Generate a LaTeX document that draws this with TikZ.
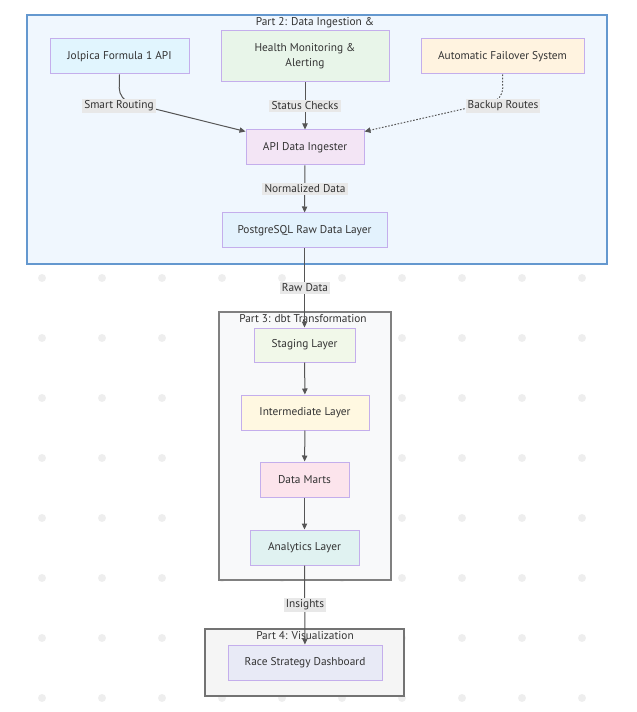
\documentclass[tikz,border=0pt]{standalone}
\usepackage{fontspec}
\setmainfont{PT Sans}
\usetikzlibrary{arrows.meta}
\definecolor{ink}{HTML}{333333}
\definecolor{edgegray}{HTML}{555555}
\definecolor{nodeedge}{HTML}{C4AEEC}
\definecolor{lblbg}{HTML}{E8E8E8}
\definecolor{dotgray}{HTML}{EEEEEE}
\definecolor{ingestfill}{HTML}{F0F7FE}
\definecolor{ingestedge}{HTML}{6498CF}

\begin{document}
\begin{tikzpicture}[x=0.75pt, y=-0.75pt,
      box/.style={draw=nodeedge, line width=0.75pt, text=ink, align=center,
        inner sep=0pt, minimum height=26.25pt, font=\fontsize{8.5}{11}\selectfont},
      cluster/.style={line width=1.1pt, inner sep=0pt},
      ctitle/.style={text=ink, inner sep=1pt, font=\fontsize{8.5}{11}\selectfont},
      elbl/.style={fill=lblbg, text=ink, inner sep=1.6pt, font=\fontsize{8.5}{11}\selectfont},
      edge/.style={draw=edgegray, line width=0.75pt, -{Triangle[length=4.5pt,width=4pt]}},
    ]
    \useasboundingbox (0,0) rectangle (636,712);

    % Dotted background grid
    \foreach \gx in {42,102,...,582}
      \foreach \gy in {38,98,...,698}
        \fill[dotgray] (\gx,\gy) circle (3pt);

    % Clusters
    \node[cluster, draw=ingestedge, fill=ingestfill, minimum width=435pt,
      minimum height=186.75pt] (ingest) at (317,139.5) {};
    \node[ctitle] (ingesttitle) at (315,23) {Part 2: Data Ingestion \&};
    \node[cluster, draw=gray, fill={rgb,255:red,248;green,249;blue,250},
      minimum width=129pt, minimum height=201pt] (dbt) at (305,446) {};
    \node[ctitle] (dbttitle) at (303,319) {Part 3: dbt Transformation};
    \node[cluster, draw=gray!90!black, fill={rgb,255:red,245;green,245;blue,245},
      minimum width=149.25pt, minimum height=50.25pt] (viz) at (304.5,662.5) {};
    \node[ctitle] (viztitle) at (305,636) {Part 4: Visualization};

    % Part 2 nodes
    \node[box, fill={rgb,255:red,225;green,245;blue,254}, minimum width=104.25pt]
      (jolpica) at (119.5,56.5) {Jolpica Formula 1 API};
    \node[box, fill={rgb,255:red,232;green,245;blue,233}, minimum width=126pt,
      minimum height=38.25pt] (health) at (305,56.5) {Health Monitoring \&\\Alerting};
    \node[box, fill={rgb,255:red,255;green,243;blue,224}, minimum width=122.25pt]
      (failover) at (502.5,56.5) {Automatic Failover System};
    \node[box, fill={rgb,255:red,243;green,229;blue,245}, minimum width=88.5pt]
      (ingester) at (305,147.5) {API Data Ingester};
    \node[box, fill={rgb,255:red,227;green,242;blue,253}, minimum width=123.75pt]
      (rawlayer) at (304.5,230.5) {PostgreSQL Raw Data Layer};

    % Part 3 nodes
    \node[box, fill={rgb,255:red,241;green,248;blue,233}, minimum width=75.75pt,
      minimum height=25.5pt] (staging) at (304.5,345) {Staging Layer};
    \node[box, fill={rgb,255:red,255;green,248;blue,225}, minimum width=96pt]
      (intermediate) at (305,412.5) {Intermediate Layer};
    \node[box, fill={rgb,255:red,252;green,228;blue,236}, minimum width=66.75pt]
      (marts) at (304.5,479.5) {Data Marts};
    \node[box, fill={rgb,255:red,224;green,242;blue,241}, minimum width=81.75pt]
      (analytics) at (304.5,547.5) {Analytics Layer};

    % Part 4 node
    \node[box, fill={rgb,255:red,232;green,234;blue,246}, minimum width=115.5pt]
      (dashboard) at (305,662.5) {Race Strategy Dashboard};

    % Connectors
    \coordinate (smartbend) at (119,100);
    \coordinate (backupbend) at (503,100);
    \draw[edge, rounded corners=9pt] (jolpica.south) -- (smartbend)
      -- ([yshift=-1.5pt]ingester.north west);
    \draw[edge] (health) -- (ingester);
    \draw[edge, rounded corners=9pt, dash pattern=on 1.2pt off 1.2pt]
      (failover.south) -- (backupbend) -- ([yshift=-1.5pt]ingester.north east);
    \draw[edge] (ingester) -- (rawlayer);
    \draw[edge] (rawlayer) -- (staging);
    \draw[edge] (staging) -- (intermediate);
    \draw[edge] (intermediate) -- (marts);
    \draw[edge] (marts) -- (analytics);
    \draw[edge] (analytics) -- (dashboard);

    % Edge labels
    \node[elbl] (smartlbl) at (119,106) {Smart Routing};
    \node[elbl] (statuslbl) at (305,106) {Status Checks};
    \node[elbl] (backuplbl) at (503,106) {Backup Routes};
    \node[elbl] (normlbl) at (305,189) {Normalized Data};
    \node[elbl] (rawlbl) at (305,288) {Raw Data};
    \node[elbl] (insightlbl) at (305,605) {Insights};
  \end{tikzpicture}
\end{document}
